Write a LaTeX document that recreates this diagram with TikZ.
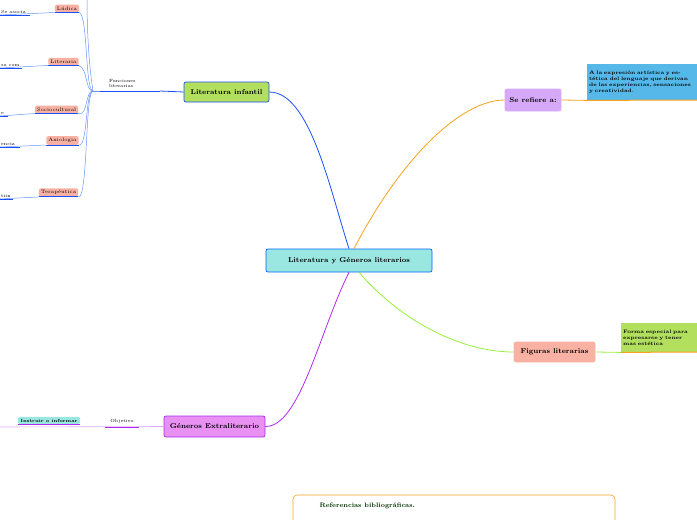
\documentclass[tikz,border=0pt]{standalone}
\begin{document}
\begin{tikzpicture}[x=1pt,y=-1pt,
  font=\bfseries,
  topic/.style={draw, rounded corners=2pt, line width=0.7pt, inner sep=3pt, font=\bfseries\fontsize{7}{8}\selectfont, anchor=center},
  sub/.style={fill=#1, rounded corners=1.5pt, inner sep=2pt, font=\fontsize{5}{6}\selectfont},
  note/.style={font=\fontsize{4.5}{5.5}\selectfont, inner sep=1pt},
  bl/.style={draw=blue!70!cyan!60, line width=0.5pt}]
\useasboundingbox (0,0) rectangle (697,520);
\definecolor{cyanbox}{HTML}{9AE6E0}
\definecolor{grn}{HTML}{B2E05E}
\definecolor{purp}{HTML}{D5A9F7}
\definecolor{bluebox}{HTML}{56B8E8}
\definecolor{pnk}{HTML}{F9B1A3}
\definecolor{mag}{HTML}{E891F2}
\definecolor{bluel}{HTML}{1A4FFF}
\definecolor{orl}{HTML}{F7A21E}
\definecolor{grl}{HTML}{98F03A}
\definecolor{pul}{HTML}{B02AF0}

\node[topic, fill=cyanbox, draw=blue!60!cyan, minimum width=166pt, minimum height=23pt] (c) at (349,260.5) {Literatura y Géneros literarios};
\node[topic, fill=grn, draw=bluel, minimum width=85pt, minimum height=20pt] (li) at (226.5,92) {Literatura infantil};
\node[topic, fill=purp, draw=purp, minimum width=56pt, minimum height=22pt] (sr) at (533,100) {Se refiere a:};
\node[topic, fill=pnk, draw=pnk, minimum width=81pt, minimum height=20pt] (fl) at (554.5,352) {Figuras literarias};
\node[topic, fill=mag, draw=pul, minimum width=101pt, minimum height=21pt] (ge) at (214.5,426.5) {Géneros Extraliterario};

\node[fill=bluebox, anchor=north west, text width=106pt, align=left, font=\bfseries\fontsize{5}{6}\selectfont, inner sep=2pt, minimum height=36pt] (bt) at (587,64) {A la expresión artística y estética del lenguaje que derivan de las experiencias, sensaciones y creatividad.};
\draw[orl, line width=1pt] (bt.south west) -- (697,100);
\node[fill=grn, anchor=north west, text width=72pt, align=left, font=\bfseries\fontsize{5}{6}\selectfont, inner sep=2pt, minimum height=29pt] (gt) at (621,323) {Forma especial para expresarse y tener mas estética};
\draw[orl, line width=1pt] (gt.south west) -- (697,352);

\draw[bluel, line width=0.8pt] (c.north) .. controls (330,190) and (310,92) .. (li.east);
\draw[orl, line width=0.8pt] (c.north) ++(5,0) coordinate (co) .. controls (400,160) and (460,100) .. (sr.west);
\draw[orl, line width=0.8pt] (sr.east) -- (bt.south west);
\draw[grl, line width=0.8pt] (c.south) ++(10,0) coordinate (cg) .. controls (400,320) and (460,352) .. (fl.west);
\draw[grl, line width=0.8pt] (fl.east) -- (gt.south west);
\draw[pul, line width=0.8pt] (c.south) .. controls (320,330) and (300,427) .. (ge.east);

% left branch
\coordinate (fj) at (93,91);
\node[note, anchor=south west, align=left] (fn) at (108,89) {Funciones\\literarias};
\draw[bluel, line width=0.8pt] (li.west) -- (160,91);
\draw[bl] (160,91) -- (fj);
\draw[bluel, line width=1pt] (100,91) -- (160,91);

\foreach \n/\t/\x/\y/\l/\lx/\lw in {a/Lúdica/67/8.5/Se asocia/0/30, b/Literaria/63.5/61.5/sa com/0/22, d/Sociocultural/56.5/109.5/e/0/8, e/Axiologia/62.5/140.5/encia/0/20, f/Terapéutica/58.5/192.5/tiin/0/13}{
  \node[sub=pnk] (\n) at (\x,\y) {\t};
  \draw[bl] (fj) .. controls (85,91) and (88,\y+7) .. (\n.south east);
  \draw[bluel, line width=1pt] (\n.south west) -- (\n.south east);
  \draw[bl] (\n.south west) -- (0,\y+6.5);
  \draw[bluel, line width=1pt] (0,\y+6.5) -- (\lw,\y+6.5);
  \node[note, anchor=south west, font=\fontsize{4.5}{5.5}\selectfont] at (\lx,\y+6) {\l};
}
\draw[bl] (fj) .. controls (88,60) and (87,20) .. (87,0);

% bottom-left branch
\draw[pul!40, line width=0.6pt] (ge.west) -- (0,427);
\node[note, anchor=south] (ob) at (122,425) {Objetivo};
\draw[pul, line width=1pt] (105,427) -- (139,427);
\node[sub=cyanbox, font=\bfseries\fontsize{4.5}{5.5}\selectfont, minimum width=62pt] (ins) at (49,420.5) {Instruir o informar};
\draw[pul, line width=1pt] (ins.south west) -- (ins.south east);

\draw[orl, rounded corners=4pt, line width=0.6pt] (293,525) -- (293,495) -- (615,495) -- (615,525);
\node[anchor=west, text=green!20!black, font=\bfseries\fontsize{6.5}{7}\selectfont] (ref) at (316,505.5) {Referencias bibliográficas.};
\end{tikzpicture}
\end{document}
